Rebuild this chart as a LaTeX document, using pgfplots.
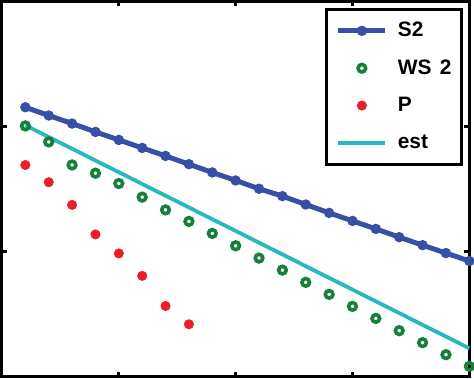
\documentclass[border=0pt]{standalone}
\usepackage{pgfplots}
\pgfplotsset{compat=1.18}
\usepackage{fontspec}
\setmainfont{Liberation Sans}
\definecolor{cS}{RGB}{55,80,165}
\definecolor{cW}{RGB}{20,128,60}
\definecolor{cP}{RGB}{235,30,40}
\definecolor{cE}{RGB}{40,185,190}
\begin{document}
\begin{tikzpicture}
\begin{axis}[
  scale only axis,
  width=234bp, height=188bp,
  xmin=0, xmax=20, ymin=0, ymax=3,
  xtick={5,10,15}, ytick={1,2},
  xticklabels={}, yticklabels={},
  tick label style={inner sep=0pt, outer sep=0pt, font=\tiny},
  tick align=inside,
  major tick length=2.5bp,
  tick style={line width=1.5bp, black},
  axis line style={line width=1.5bp},
  clip=false,
  legend cell align=left,
  legend image code/.code={\draw[mark repeat=2,mark phase=2,#1] plot coordinates {(0bp,0bp) (11.75bp,0bp) (23.5bp,0bp)};},
  legend style={
    at={(rel axis cs:0.987,0.984)}, anchor=north east,
    draw=black, line width=1.5bp,
    font=\fontsize{10.5}{12}\selectfont\bfseries,
    inner xsep=4.5bp, inner ysep=1.6bp,
    column sep=5bp, row sep=0pt,
    nodes={inner sep=0pt, minimum height=18.7bp, text width=27.5bp},
  },
]
\addplot[color=cS, line width=2.5bp, mark=*, mark size=2.35bp, mark options={solid, fill=cS, line width=0.5bp}]
coordinates {
(1,2.155) (2,2.089) (3,2.025) (4,1.958) (5,1.894) (6,1.830) (7,1.766) (8,1.700) (9,1.634) (10,1.570)
(11,1.504) (12,1.445) (13,1.378) (14,1.311) (15,1.247) (16,1.183) (17,1.117) (18,1.053) (19,0.990) (20,0.926)
};
\addlegendentry{S2}
\addplot[only marks, color=cW, mark=o, mark size=1.9bp, mark options={line width=1.8bp}]
coordinates {
(1,2.006) (2,1.878) (3,1.694) (4,1.628) (5,1.546) (6,1.437) (7,1.335) (8,1.243) (9,1.147) (10,1.048)
(11,0.950) (12,0.854) (13,0.756) (14,0.660) (15,0.564) (16,0.468) (17,0.370) (18,0.274) (19,0.178) (20,0.085)
};
\addlegendentry{WS\hspace{0.4em}2}
\addplot[only marks, color=cP, mark=*, mark size=2.35bp, mark options={fill=cP, line width=0.3bp}]
coordinates {
(1,1.694) (2,1.556) (3,1.375) (4,1.139) (5,0.987) (6,0.808) (7,0.567) (8,0.421)
};
\addlegendentry{P}
\addplot[color=cE, line width=1.9bp, no marks]
coordinates {(1,2.011) (20,0.229)};
\addlegendentry{est}
\end{axis}
\end{tikzpicture}
\end{document}
